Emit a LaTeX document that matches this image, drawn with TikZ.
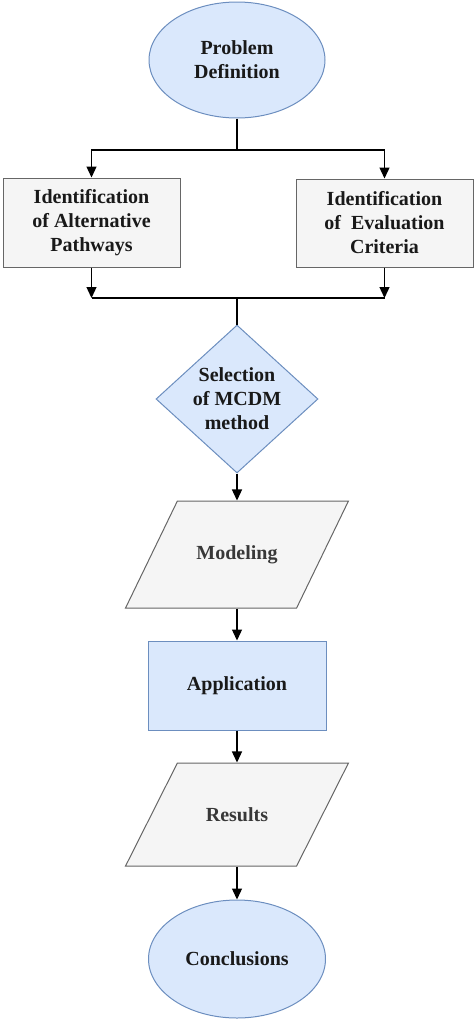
\documentclass[tikz,border=0pt]{standalone}
\usepackage{fontspec}
\setmainfont{Liberation Serif}
\usetikzlibrary{shapes.geometric,arrows.meta}
\definecolor{bluefill}{HTML}{DAE8FC}
\definecolor{bluedraw}{HTML}{6C8EBF}
\definecolor{grayfill}{HTML}{F5F5F5}
\definecolor{graydraw}{HTML}{666666}
\begin{document}
\begin{tikzpicture}[x=1pt,y=-1pt,
  txt/.style={font=\fontsize{20}{24}\selectfont\bfseries, align=center, text=black!90},
  gtxt/.style={txt, text=black!78},
  bluebox/.style={draw=bluedraw, fill=bluefill, line width=1pt},
  graybox/.style={draw=graydraw, fill=grayfill, line width=1pt},
  conn/.style={line width=1.3pt, black},
  arr/.style={conn, -{Triangle[length=11pt,width=10pt]}},
  para/.style={trapezium, trapezium left angle=66.5, trapezium right angle=113.5, trapezium stretches=true, graybox, minimum width=223pt}
]
\useasboundingbox (0,0) rectangle (474,1020);
\node[ellipse, bluebox, txt, minimum width=176pt, minimum height=116pt] (pd) at (237,60) {Problem\\Definition};
\node[rectangle, graybox, txt, minimum width=177pt, minimum height=89pt] (alt) at (91.5,222.5) {Identification\\of Alternative\\Pathways};
\node[rectangle, graybox, txt, minimum width=177pt, minimum height=88pt] (eval) at (384.5,223) {Identification\\of\ \ Evaluation\\Criteria};
\node[diamond, bluebox, minimum width=162pt, minimum height=148pt, inner sep=0pt] (sel) at (237,399) {};
\node[txt] (seltxt) at (sel) {Selection\\of MCDM\\method};
\node[para, minimum height=107pt] (mod) at (237,554.5) {};
\node[gtxt] (modtxt) at (mod) {Modeling};
\node[rectangle, bluebox, txt, minimum width=178pt, minimum height=89pt] (app) at (237,685.5) {Application};
\node[para, minimum height=103pt] (res) at (237,814.5) {};
\node[gtxt] (restxt) at (res) {Results};
\node[ellipse, bluebox, txt, minimum width=177pt, minimum height=118pt] (con) at (237,959) {Conclusions};
\coordinate (j1) at (237,150);
\coordinate (j2) at (237,298);
\draw[conn] (pd.south) -- (j1);
\draw[arr] (j1) -| (alt.north);
\draw[arr] (j1) -| (eval.north);
\draw[arr] (alt.south) -- (alt.south |- j2);
\draw[arr] (eval.south) -- (eval.south |- j2);
\draw[conn] (alt.south |- j2) -- (eval.south |- j2);
\draw[conn] (j2) -- (sel.north);
\draw[arr] (sel.south) -- (mod.north);
\draw[arr] (mod.south) -- (app.north);
\draw[arr] (app.south) -- (res.north);
\draw[arr] (res.south) -- (con.north);
\end{tikzpicture}
\end{document}
